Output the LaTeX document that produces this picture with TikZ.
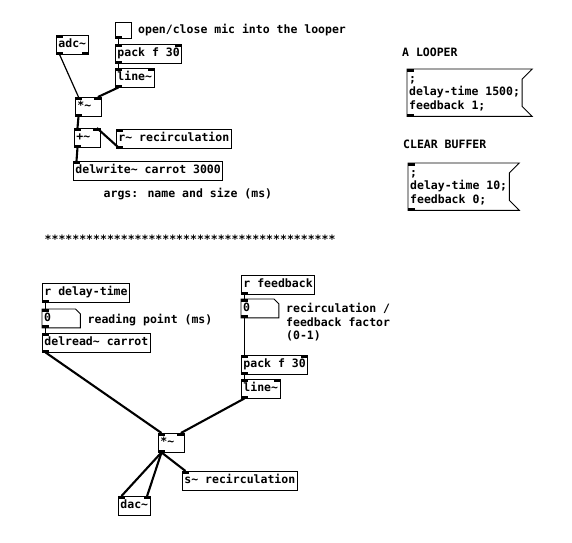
\documentclass[tikz,border=0pt]{standalone}
\usepackage{fontspec}
\newfontfamily\pdfont{DejaVu Sans Mono}
\usetikzlibrary{calc}
\newcommand\pdtl{\textasciitilde}
\newcommand\pdstrut{\rule[-3pt]{0pt}{12pt}}
\newcommand\pdinL[1]{\fill (#1.north west) rectangle ++(7,2.5);}
\newcommand\pdinR[1]{\fill (#1.north east) rectangle ++(-7,2.5);}
\newcommand\pdoutL[1]{\fill (#1.south west) rectangle ++(7,-2.5);}
\newcommand\pdoutR[1]{\fill (#1.south east) rectangle ++(-7,-2.5);}
\begin{document}
\begin{tikzpicture}[x=1pt,y=-1pt,
  pdtext/.style={font=\pdfont\bfseries\fontsize{11.5}{13.5}\selectfont, text=black},
  obj/.style={pdtext, draw=black, line width=0.9pt, anchor=north west, inner xsep=2pt, inner ysep=3.25pt, text height=9pt, text depth=3pt},
  atom/.style={pdtext, anchor=north west, inner xsep=2pt, inner ysep=3.25pt, text height=9pt, text depth=3pt},
  cmt/.style={pdtext, anchor=base west, inner sep=0pt},
  mcmt/.style={pdtext, anchor=north west, inner sep=0pt, align=left},
  msg/.style={pdtext, anchor=north west, inner xsep=2pt, inner ysep=4pt, align=left},
  shp/.style={draw=black, line width=0.9pt},
  ctl/.style={line width=1pt, draw=black},
  sig/.style={line width=2.1pt, draw=black},
]
\useasboundingbox[fill=white] (0,0) rectangle (572,542);

% ---------- top part ----------
\node[draw=black, line width=0.9pt, anchor=north west, minimum size=16pt, inner sep=0pt] (tog) at (115,22) {};
\node[cmt] (c1) at (138,33.5) {open/close mic into the looper};
\node[obj] (adc) at (56,35) {adc\pdtl};
\node[obj] (pack1) at (115,44) {pack f 30};
\node[obj] (line1) at (115,68) {line\pdtl};
\node[obj, text width=21.5pt, align=left] (mul1) at (75,97) {*\pdtl};
\node[obj, text width=21.5pt, align=left] (add1) at (74,128) {+\pdtl};
\node[obj] (rrec) at (116,129) {r\pdtl{} recirculation};
\node[obj] (dw) at (73,161) {delwrite\pdtl{} carrot 3000};
\node[cmt] (c2) at (103.5,197.7) {args: name and size (ms)};

\pdoutL{tog}
\pdinL{adc}\pdoutL{adc}\pdoutR{adc}
\pdinL{pack1}\pdinR{pack1}\pdoutL{pack1}
\pdinL{line1}\pdinR{line1}\pdoutL{line1}
\pdinL{mul1}\pdinR{mul1}\pdoutL{mul1}
\pdinL{add1}\pdinR{add1}\pdoutL{add1}
\pdinL{rrec}\pdoutL{rrec}
\pdinL{dw}

\draw[ctl] ($(tog.south west)+(3.5,0)$) -- ($(pack1.north west)+(3.5,0)$);
\draw[ctl] ($(pack1.south west)+(3.5,0)$) -- ($(line1.north west)+(3.5,0)$);
\draw[sig] ($(line1.south west)+(3.5,0)$) -- ($(mul1.north east)+(-3.5,0)$);
\draw[line width=1.2pt] ($(adc.south west)+(3.5,0)$) -- ($(mul1.north west)+(3.5,0)$);
\draw[sig] ($(mul1.south west)+(3.5,0)$) -- ($(add1.north west)+(3.5,0)$);
\draw[sig] ($(rrec.south west)+(3.5,0)$) -- ($(add1.north east)+(-3.5,0)$);
\draw[sig] ($(add1.south west)+(3.5,0)$) -- ($(dw.north west)+(3.5,0)$);

% ---------- message boxes ----------
\node[cmt] (t1) at (402,56.5) {A LOOPER};
\node[msg] (msgA) at (407,69) {\pdstrut;\\delay-time 1500;\\feedback 1;\pdstrut};
\draw[shp] (msgA.north west) -- ($(msgA.north east)+(10,0)$) -- ($(msgA.north east)+(0,10)$)
  -- ($(msgA.south east)+(0,-10)$) -- ($(msgA.south east)+(10,0)$) -- (msgA.south west) -- cycle;
\pdinL{msgA}\pdoutL{msgA}

\node[cmt] (t2) at (403,148.3) {CLEAR BUFFER};
\node[msg] (msgB) at (408,163) {\pdstrut;\\delay-time 10;\\feedback 0;\pdstrut};
\draw[shp] (msgB.north west) -- ($(msgB.north east)+(10,0)$) -- ($(msgB.north east)+(0,10)$)
  -- ($(msgB.south east)+(0,-10)$) -- ($(msgB.south east)+(10,0)$) -- (msgB.south west) -- cycle;
\pdinL{msgB}\pdoutL{msgB}

% ---------- separator ----------
\node[cmt] (stars) at (44.5,243) {******************************************};

% ---------- bottom part ----------
\node[obj] (rdt) at (42,283) {r delay-time};
\node[atom, text width=34pt, align=left] (nb1) at (42,309) {0};
\draw[shp] (nb1.north west) -- ($(nb1.north east)+(-5,0)$) -- ($(nb1.north east)+(0,5)$)
  -- (nb1.south east) -- (nb1.south west) -- cycle;
\node[cmt] (c3) at (87.5,323.7) {reading point (ms)};
\node[obj] (delread) at (42,333) {delread\pdtl{} carrot};

\node[obj] (rfb) at (241,275) {r feedback};
\node[atom, text width=33.5pt, align=left] (nb2) at (241,299) {0};
\draw[shp] (nb2.north west) -- ($(nb2.north east)+(-5,0)$) -- ($(nb2.north east)+(0,5)$)
  -- (nb2.south east) -- (nb2.south west) -- cycle;
\node[mcmt] (c4) at (286,303.3) {\pdstrut recirculation /\\feedback factor\\(0-1)};
\node[obj] (pack2) at (241,355) {pack f 30};
\node[obj] (line2) at (241,379) {line\pdtl};

\node[obj, text width=21.5pt, align=left] (mul2) at (158,433) {*\pdtl};
\node[obj] (srec) at (182,471) {s\pdtl{} recirculation};
\node[obj] (dac) at (118,496) {dac\pdtl};

\pdoutL{rdt}
\pdinL{nb1}\pdoutL{nb1}
\pdinL{delread}\pdoutL{delread}
\pdoutL{rfb}
\pdinL{nb2}\pdoutL{nb2}
\pdinL{pack2}\pdinR{pack2}\pdoutL{pack2}
\pdinL{line2}\pdinR{line2}\pdoutL{line2}
\pdinL{mul2}\pdinR{mul2}\pdoutL{mul2}
\pdinL{srec}
\pdinL{dac}\pdinR{dac}

\draw[ctl] ($(rdt.south west)+(3.5,0)$) -- ($(nb1.north west)+(3.5,0)$);
\draw[ctl] ($(nb1.south west)+(3.5,0)$) -- ($(delread.north west)+(3.5,0)$);
\draw[sig] ($(delread.south west)+(3.5,0)$) -- ($(mul2.north west)+(3.5,0)$);
\draw[ctl] ($(rfb.south west)+(3.5,0)$) -- ($(nb2.north west)+(3.5,0)$);
\draw[ctl] ($(nb2.south west)+(3.5,0)$) -- ($(pack2.north west)+(3.5,0)$);
\draw[ctl] ($(pack2.south west)+(3.5,0)$) -- ($(line2.north west)+(3.5,0)$);
\draw[sig] ($(line2.south west)+(3.5,0)$) -- ($(mul2.north east)+(-3.5,0)$);
\draw[sig] ($(mul2.south west)+(3.5,0)$) -- ($(dac.north west)+(3.5,0)$);
\draw[sig] ($(mul2.south west)+(3.5,0)$) -- ($(dac.north east)+(-3.5,0)$);
\draw[sig] ($(mul2.south west)+(3.5,0)$) -- ($(srec.north west)+(3.5,0)$);
\end{tikzpicture}
\end{document}
